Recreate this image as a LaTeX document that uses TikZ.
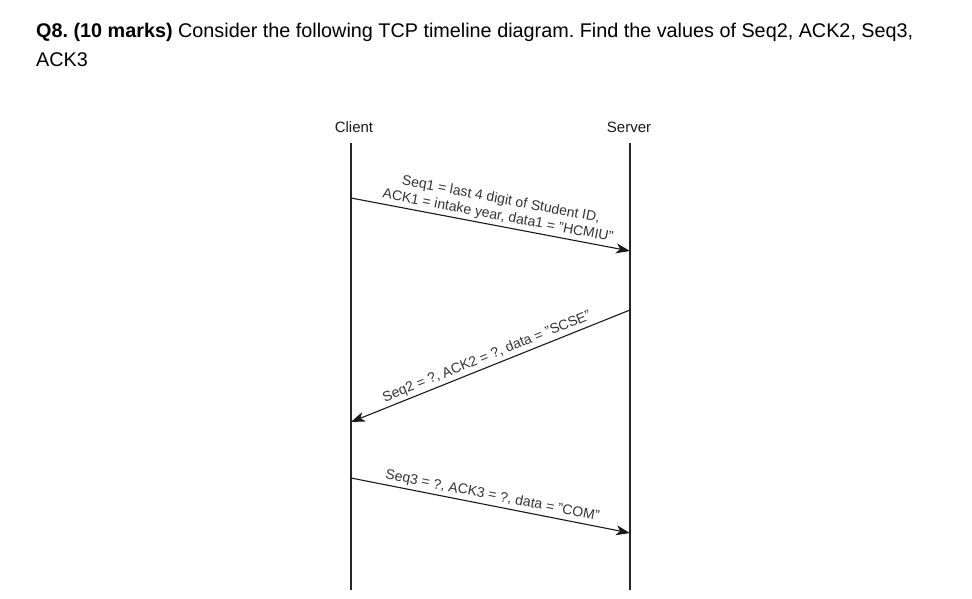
\documentclass[tikz,border=0pt]{standalone}
\usepackage{fontspec}
\setmainfont{Liberation Sans}
\usetikzlibrary{arrows.meta,positioning}

\tikzset{
	lifeline/.style={draw=black!85, line width=1.1pt},
	msg/.style={draw=black!90, line width=1.1pt, -{Stealth[length=14pt,width=10pt,inset=4pt]}},
	msglabel/.style={font=\fontsize{14}{16.5}\selectfont, text=black!80, align=center, inner sep=2.5pt},
	hostlabel/.style={font=\fontsize{15}{17}\selectfont, text=black!90}
}

\begin{document}
\frenchspacing
\begin{tikzpicture}[x=1pt,y=-1pt]

\useasboundingbox (0,0) rectangle (972,599);

%Question text
\node[anchor=base west, inner sep=0pt, font=\fontsize{19.8}{24}\selectfont] (q1) at (36,38)
	{\textbf{Q8. (10 marks)} Consider the following TCP timeline diagram. Find the values of Seq2, ACK2, Seq3,};
\node[anchor=base west, inner sep=0pt, font=\fontsize{19.8}{24}\selectfont] (q2) at (36,67) {ACK3};

%Hosts
\node[hostlabel, anchor=base] (client) at (354,133) {Client};
\node[hostlabel, anchor=base] (server) at (629,133) {Server};

\coordinate (ctop) at (351,143);
\coordinate (cbot) at (351,590);
\coordinate (stop) at (630,143);
\coordinate (sbot) at (630,590);

%Draw the lifelines
\draw[lifeline] (ctop) -- (cbot);
\draw[lifeline] (stop) -- (sbot);

%Segments
\coordinate (c1) at (351,198);
\coordinate (s1) at (630,251);
\coordinate (s2) at (630,310);
\coordinate (c2) at (351,422);
\coordinate (c3) at (351,478);
\coordinate (s3) at (630,533);

\draw[msg] (c1) -- node[msglabel, sloped, above, pos=0.52] (m1)
	{Seq1 = last 4 digit of Student ID,\\ACK1 = intake year, data1 = "HCMIU"} (s1);
\draw[msg] (s2) -- node[msglabel, sloped, above, pos=0.5] (m2)
	{Seq2 = ?, ACK2 = ?, data = "SCSE"} (c2);
\draw[msg] (c3) -- node[msglabel, sloped, above, pos=0.5] (m3)
	{Seq3 = ?, ACK3 = ?, data = "COM"} (s3);

\end{tikzpicture}
\end{document}
